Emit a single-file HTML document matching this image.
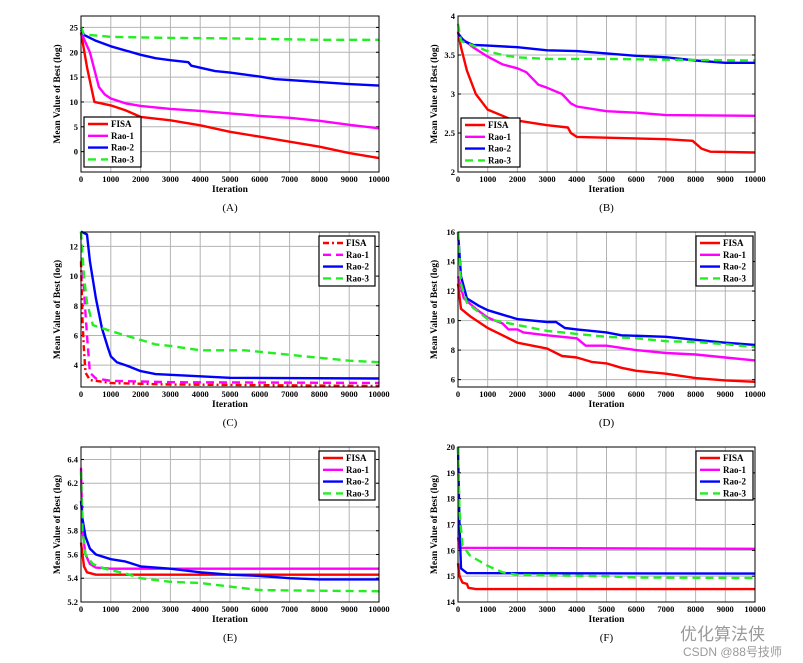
<!DOCTYPE html>
<html><head><meta charset="utf-8"><style>
html,body{margin:0;padding:0;background:#fff;}
svg{display:block;font-family:"Liberation Serif",serif;}
</style></head><body>
<svg id="fig" width="803" height="663" viewBox="0 0 803 663"></svg>
<script>
const NS="http://www.w3.org/2000/svg";
const svg=document.getElementById('fig');
const seriesNames=["FISA","Rao-1","Rao-2","Rao-3"];
const seriesColors=["#ff0000","#ff00ff","#0000ff","#22ee22"];
const xTicks=[0,1000,2000,3000,4000,5000,6000,7000,8000,9000,10000];

// Panel A
const aFISA=[[0,24],[200,17],[450,10],[1000,9.3],[1500,8.3],[2000,7],[3000,6.3],[4000,5.3],[5000,4],[6000,3],[7000,2],[8000,1],[9000,-0.3],[10000,-1.3]];
const aRao1=[[0,24],[300,20],[600,13],[800,11.5],[1000,10.7],[1500,9.7],[2000,9.2],[3000,8.6],[4000,8.2],[5000,7.7],[6000,7.2],[7000,6.8],[8000,6.2],[9000,5.4],[10000,4.7]];
const aRao2=[[0,24.5],[100,23.5],[500,22.3],[1000,21.2],[2000,19.5],[2500,18.8],[3000,18.4],[3600,18],[3700,17.3],[4500,16.2],[5000,15.9],[6000,15.1],[6500,14.6],[7000,14.4],[8000,14],[9000,13.6],[10000,13.3]];
const aRao3=[[0,25],[100,23.6],[1000,23.1],[3000,22.9],[5000,22.8],[8000,22.5],[10000,22.5]];
const aYTicks=[0,5,10,15,20,25];
// Panel B
const bFISA=[[0,3.8],[100,3.6],[300,3.3],[600,3.0],[900,2.85],[1000,2.8],[1500,2.72],[1800,2.67],[3000,2.6],[3700,2.57],[3800,2.5],[4000,2.45],[7000,2.42],[7900,2.4],[8200,2.3],[8500,2.26],[10000,2.25]];
const bRao1=[[0,3.75],[500,3.6],[1000,3.48],[1500,3.38],[2000,3.33],[2300,3.28],[2700,3.12],[3000,3.08],[3500,3.0],[3800,2.88],[4000,2.84],[5000,2.78],[6000,2.76],[7000,2.73],[10000,2.72]];
const bRao2=[[0,3.78],[200,3.68],[500,3.63],[1000,3.62],[2000,3.6],[3000,3.56],[4000,3.55],[5000,3.52],[6000,3.49],[7000,3.47],[8000,3.43],[9000,3.4],[10000,3.4]];
const bRao3=[[0,3.9],[100,3.68],[1000,3.55],[1500,3.5],[2000,3.47],[3000,3.45],[5000,3.45],[7000,3.44],[10000,3.43]];
const bYTicks=[2,2.5,3,3.5,4];
// Panel C
const cFISA=[[0,11],[50,7],[100,5],[150,3.5],[300,3.0],[1000,2.8],[3000,2.7],[10000,2.6]];
const cRao1=[[0,13],[100,9],[200,6],[300,3.5],[500,3.1],[1000,2.95],[3000,2.85],[10000,2.8]];
const cRao2=[[0,13],[200,12.8],[300,11],[500,8.5],[700,6.5],[900,5.2],[1000,4.6],[1200,4.2],[1500,4.0],[2000,3.6],[2500,3.4],[3000,3.35],[4000,3.25],[5000,3.15],[10000,3.1]];
const cRao3=[[0,13],[100,10],[200,8.2],[400,6.7],[1000,6.3],[1500,6],[2000,5.7],[2500,5.4],[3000,5.3],[4000,5.0],[5500,5.0],[6500,4.8],[7500,4.6],[8500,4.4],[9000,4.3],[10000,4.2]];
const cYTicks=[4,6,8,10,12];
// Panel D
const dFISA=[[0,12.5],[100,10.8],[400,10.3],[1000,9.5],[1500,9.0],[2000,8.5],[3000,8.1],[3500,7.6],[4000,7.5],[4500,7.2],[5000,7.1],[5500,6.8],[6000,6.6],[7000,6.4],[8000,6.1],[9000,5.95],[10000,5.85]];
const dRao1=[[0,13],[200,11.5],[600,10.8],[1000,10.2],[1500,9.8],[1700,9.4],[2000,9.4],[2200,9.2],[3000,9.0],[4000,8.8],[4300,8.3],[5000,8.3],[6000,8.0],[7000,7.8],[8000,7.7],[9000,7.5],[10000,7.3]];
const dRao2=[[0,16],[100,13],[300,11.5],[700,11],[1000,10.7],[1500,10.4],[2000,10.1],[2500,10],[3000,9.9],[3300,9.9],[3600,9.5],[4000,9.4],[5000,9.2],[5500,9.0],[7000,8.9],[8000,8.7],[9000,8.5],[10000,8.35]];
const dRao3=[[0,16],[100,12.5],[300,11.2],[1000,10.1],[1500,9.9],[2000,9.7],[3000,9.3],[4000,9.1],[5000,8.9],[6000,8.8],[7000,8.6],[8000,8.55],[9000,8.4],[10000,8.2]];
const dYTicks=[6,8,10,12,14,16];
// Panel E
const eFISA=[[0,5.7],[50,5.6],[100,5.5],[200,5.45],[500,5.43],[10000,5.43]];
const eRao1=[[0,6.33],[50,5.8],[150,5.6],[300,5.52],[500,5.49],[1000,5.48],[10000,5.48]];
const eRao2=[[0,6.05],[50,5.9],[150,5.75],[300,5.65],[500,5.6],[1000,5.56],[1500,5.54],[2000,5.5],[3000,5.48],[4000,5.45],[5000,5.43],[6000,5.42],[7000,5.4],[8000,5.39],[10000,5.39]];
const eRao3=[[0,6.3],[50,5.8],[150,5.6],[400,5.52],[800,5.48],[1500,5.44],[2000,5.4],[3000,5.37],[4000,5.36],[5000,5.33],[6000,5.3],[10000,5.29]];
const eYTicks=[5.2,5.4,5.6,5.8,6,6.2,6.4];
// Panel F
const fFISA=[[0,15.5],[50,15.0],[150,14.75],[300,14.7],[350,14.55],[600,14.5],[10000,14.5]];
const fRao1=[[0,16.5],[50,16.1],[10000,16.06]];
const fRao2=[[0,20],[50,17],[100,15.3],[300,15.12],[10000,15.1]];
const fRao3=[[0,20],[50,17.5],[150,16.2],[400,15.8],[1000,15.4],[1500,15.15],[2000,15.05],[5000,15.0],[6000,14.95],[10000,14.93]];
const fYTicks=[14,15,16,17,18,19,20];

function el(tag,attrs,parent){const e=document.createElementNS(NS,tag);for(const k in attrs)e.setAttribute(k,attrs[k]);(parent||svg).appendChild(e);return e;}

const panels=[
 {id:'a',cap:'(A)',x0:81,x1:379,y0:16,y1:172,ymin:-4.1,ymax:27.3,yt:aYTicks,data:[aFISA,aRao1,aRao2,aRao3],dash:['','','','8,5'],leg:[84,117,57,50]},
 {id:'b',cap:'(B)',x0:458,x1:755,y0:16,y1:172,ymin:2,ymax:4,yt:bYTicks,data:[bFISA,bRao1,bRao2,bRao3],dash:['','','','8,5'],leg:[461,118,59,49]},
 {id:'c',cap:'(C)',x0:81,x1:379,y0:232,y1:387,ymin:2.53,ymax:12.97,yt:cYTicks,data:[cFISA,cRao1,cRao2,cRao3],dash:['6,3,2,3','8,5','','8,5'],leg:[319,236,56,50]},
 {id:'d',cap:'(D)',x0:458,x1:755,y0:232,y1:387,ymin:5.5,ymax:16,yt:dYTicks,data:[dFISA,dRao1,dRao2,dRao3],dash:['','','','8,5'],leg:[696,236,57,50]},
 {id:'e',cap:'(E)',x0:81,x1:379,y0:447,y1:602,ymin:5.2,ymax:6.505,yt:eYTicks,data:[eFISA,eRao1,eRao2,eRao3],dash:['','','','8,5'],leg:[319,451,56,49]},
 {id:'f',cap:'(F)',x0:458,x1:755,y0:447,y1:602,ymin:14,ymax:20,yt:fYTicks,data:[fFISA,fRao1,fRao2,fRao3],dash:['','','','8,5'],leg:[696,451,57,49]}
];

panels.forEach(p=>{
 const g=el('g',{});
 
 
 const sx=v=>p.x0+(v-0)/10000*(p.x1-p.x0);
 const sy=v=>p.y1-(v-p.ymin)/(p.ymax-p.ymin)*(p.y1-p.y0);
 // grid
 xTicks.forEach(t=>{
  const l=el('line',{x1:sx(t),x2:sx(t),y1:p.y0,y2:p.y1,stroke:'#b4b4b4','stroke-width':1},g);
  
  
  const tk=el('text',{x:sx(t),y:p.y1+10,'font-size':8.5,'font-weight':'bold','text-anchor':'middle'},g);
  tk.textContent=t;
  
  
 });
 p.yt.forEach(t=>{
  const y=sy(t);
  const l=el('line',{x1:p.x0,x2:p.x1,y1:y,y2:y,stroke:'#b4b4b4','stroke-width':1},g);
  
  
  el('line',{x1:p.x0,x2:p.x0+3,y1:y,y2:y,stroke:'#000'},g);
  el('line',{x1:p.x1-3,x2:p.x1,y1:y,y2:y,stroke:'#000'},g);
  const tk=el('text',{x:p.x0-3,y:y+3,'font-size':8.5,'font-weight':'bold','text-anchor':'end'},g);
  tk.textContent=t;
  
  
 });
 // series
 p.data.forEach((d,i)=>{
  const pts=d.map(q=>sx(q[0]).toFixed(1)+','+sy(q[1]).toFixed(1)).join(' ');
  const a={points:pts,fill:'none',stroke:seriesColors[i],'stroke-width':2.4,'stroke-linejoin':'round'};
  if(p.dash[i])a['stroke-dasharray']=p.dash[i];
  const pl=el('polyline',a,g);
  
  
 });
 // frame
 const fr=el('rect',{x:p.x0,y:p.y0,width:p.x1-p.x0,height:p.y1-p.y0,fill:'none',stroke:'#000','stroke-width':1},g);
 
 
 // axis titles
 const xt=el('text',{x:(p.x0+p.x1)/2,y:p.y1+20,'font-size':9.5,'font-weight':'bold','text-anchor':'middle'},g);
 xt.textContent='Iteration';
 
 
 const cy=(p.y0+p.y1)/2, cx=p.x0-21;
 const yt=el('text',{x:cx,y:cy,'font-size':9.5,'font-weight':'bold','text-anchor':'middle',transform:'rotate(-90 '+cx+' '+cy+')'},g);
 yt.textContent='Mean Value of Best (log)';
 
 
 const cp=el('text',{x:(p.x0+p.x1)/2,y:p.y1+39,'font-size':11,'text-anchor':'middle'},g);
 cp.textContent=p.cap;
 
 
 // legend
 const [lx,ly,lw,lh]=p.leg;
 const lg=el('g',{},g);
 
 
 el('rect',{x:lx,y:ly,width:lw,height:lh,fill:'#fff',stroke:'#000','stroke-width':1.2},lg);
 seriesNames.forEach((n,i)=>{
  const yy=ly+7+i*11.8;
  const a={x1:lx+4,x2:lx+24,y1:yy,y2:yy,stroke:seriesColors[i],'stroke-width':2.4};
  if(p.dash[i])a['stroke-dasharray']=p.dash[i];
  const ln=el('line',a,lg);
  
  
  const t=el('text',{x:lx+27,y:yy+3,'font-size':9,'font-weight':'bold'},lg);
  t.textContent=n;
  
  
 });
});
// watermark
const w1=el('text',{x:680,y:640,'font-size':17,fill:'#9a9a9a','font-family':'"Liberation Sans","Noto Sans CJK SC",sans-serif'});
w1.textContent='优化算法侠';


const w2=el('text',{x:683,y:656,'font-size':12,fill:'#9a9a9a','font-family':'"Liberation Sans","Noto Sans CJK SC",sans-serif'});
w2.textContent='CSDN @88号技师';


</script>
</body></html>
